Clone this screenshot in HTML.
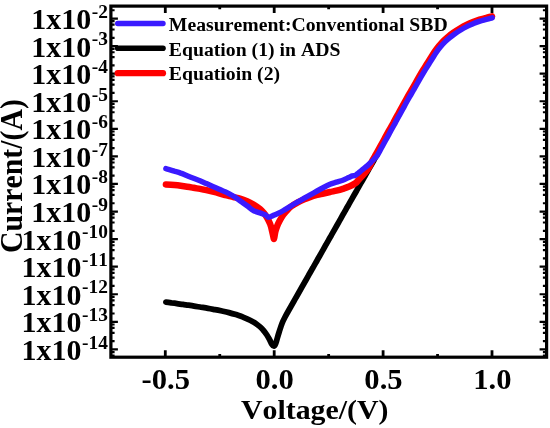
<!DOCTYPE html><html><head><meta charset="utf-8"><title>IV curve</title>
<style>html,body{margin:0;padding:0;background:#fff}svg{display:block}text{font-family:"Liberation Serif",serif;font-weight:bold;fill:#000;font-kerning:none}</style></head><body>
<svg width="550" height="428" viewBox="0 0 550 428">
<rect width="550" height="428" fill="#fff"/>
<path d="M165.9,302.1 C166.8,302.2 169.6,302.6 171.4,302.9 C173.3,303.1 175.1,303.3 177.0,303.6 C178.9,303.9 180.8,304.1 182.8,304.4 C184.7,304.7 186.6,304.9 188.5,305.2 C190.4,305.5 192.3,305.8 194.2,306.1 C196.2,306.4 197.7,306.6 200.0,307.0 C202.3,307.4 205.5,308.0 208.0,308.4 C210.5,308.8 212.7,309.2 215.0,309.6 C217.3,310.0 219.7,310.5 222.0,311.0 C224.3,311.5 226.7,312.0 229.0,312.6 C231.3,313.2 233.7,313.9 236.0,314.6 C238.3,315.4 240.8,316.2 243.1,317.1 C245.4,318.1 247.8,319.1 250.1,320.3 C252.4,321.5 255.0,323.0 257.1,324.5 C259.2,326.0 261.1,327.6 262.7,329.4 C264.3,331.1 265.7,333.2 266.9,335.0 C268.1,336.8 268.9,338.4 269.7,339.9 C270.5,341.4 271.1,343.1 271.8,344.1 C272.5,345.2 273.3,346.2 273.9,346.2 C274.5,346.1 275.1,345.1 275.6,343.8 C276.2,342.5 276.6,340.6 277.2,338.5 C277.8,336.4 278.5,334.0 279.3,331.5 C280.1,329.0 281.1,325.8 282.0,323.5 C282.9,321.2 283.8,319.4 284.8,317.5 C285.8,315.6 286.6,314.1 287.8,312.0 C289.0,309.9 290.5,307.2 291.9,304.8 C293.2,302.4 294.6,300.1 295.9,297.7 C297.3,295.3 298.6,293.0 300.0,290.5 C301.4,288.0 302.9,285.4 304.4,282.8 C305.8,280.3 307.3,277.7 308.7,275.1 C310.2,272.6 311.6,270.0 313.1,267.5 C314.5,264.9 316.0,262.4 317.4,259.8 C318.9,257.2 320.3,254.7 321.8,252.1 C323.2,249.6 324.7,247.0 326.1,244.4 C327.6,241.9 329.0,239.3 330.5,236.8 C331.9,234.2 333.4,231.6 334.8,229.1 C336.3,226.5 337.7,224.0 339.2,221.4 C340.6,218.9 342.1,216.3 343.5,213.7 C345.0,211.2 346.4,208.6 347.9,206.1 C349.3,203.5 350.8,200.9 352.2,198.4 C353.7,195.8 355.1,193.3 356.6,190.7 C358.0,188.1 359.5,185.6 360.9,183.0 C362.4,180.5 363.8,177.9 365.3,175.4 C366.7,172.8 368.2,170.2 369.6,167.7 C371.1,165.1 372.8,162.2 374.0,160.0 C375.2,157.8 376.5,155.4 377.0,154.5" fill="none" stroke="#000" stroke-width="5.8" stroke-linecap="round" stroke-linejoin="round"/>
<path d="M165.9,184.4 C167.3,184.5 171.8,184.9 174.3,185.1 C176.8,185.3 178.6,185.5 180.7,185.8 C182.8,186.1 185.0,186.4 187.1,186.7 C189.2,187.0 191.3,187.4 193.5,187.8 C195.7,188.2 197.8,188.5 200.0,188.9 C202.2,189.3 204.3,189.7 206.4,190.2 C208.5,190.7 210.7,191.2 212.8,191.7 C214.9,192.2 217.2,192.8 219.2,193.4 C221.2,194.0 223.3,194.6 225.0,195.0 C226.7,195.4 228.0,195.7 229.5,196.1 C231.0,196.5 232.1,196.8 234.0,197.2 C235.9,197.6 238.5,198.1 240.7,198.8 C242.9,199.5 245.0,200.4 247.1,201.3 C249.2,202.2 251.3,203.2 253.5,204.5 C255.7,205.8 258.3,207.6 260.0,209.0 C261.7,210.4 262.6,211.5 263.8,212.9 C265.0,214.3 265.9,215.6 267.0,217.5 C268.1,219.4 269.3,221.8 270.2,224.1 C271.1,226.4 271.7,229.3 272.2,231.5 C272.7,233.7 273.1,235.8 273.4,237.0 C273.7,238.2 273.7,238.9 273.9,238.9 C274.1,238.9 274.1,238.2 274.4,237.0 C274.6,235.8 274.9,233.3 275.4,231.4 C275.9,229.5 276.6,227.6 277.3,225.8 C278.0,224.0 278.6,222.6 279.6,220.8 C280.6,219.0 282.0,216.7 283.2,215.0 C284.4,213.3 285.4,212.0 286.8,210.6 C288.2,209.2 289.6,207.7 291.4,206.3 C293.2,204.9 295.6,203.5 297.8,202.3 C300.0,201.1 302.2,200.1 304.3,199.2 C306.4,198.3 308.6,197.5 310.7,196.8 C312.8,196.1 314.9,195.5 317.0,194.9 C319.1,194.3 321.3,194.0 323.5,193.5 C325.7,193.0 327.9,192.5 330.0,192.0 C332.1,191.5 334.3,191.2 336.4,190.7 C338.5,190.2 340.7,189.6 342.8,188.9 C344.9,188.2 347.1,187.5 349.2,186.6 C351.3,185.7 353.7,184.4 355.3,183.3 C356.9,182.2 357.5,181.0 358.6,179.9 C359.6,178.7 360.6,177.7 361.8,176.4 C363.0,175.1 364.5,173.5 365.8,171.9 C367.1,170.3 368.3,168.8 369.5,166.7 C370.7,164.6 371.8,161.7 372.9,159.6 C374.0,157.5 374.9,156.2 376.2,153.9 C377.5,151.6 379.1,148.7 380.5,146.1 C382.0,143.4 383.4,140.8 384.8,138.2 C386.3,135.6 387.7,133.0 389.1,130.4 C390.6,127.8 392.0,125.1 393.5,122.5 C394.9,119.9 396.3,117.3 397.8,114.7 C399.2,112.1 400.6,109.5 402.1,106.8 C403.5,104.2 405.2,101.1 406.4,99.0 C407.6,96.9 408.3,95.7 409.3,94.0 C410.3,92.3 411.1,90.9 412.2,89.0 C413.3,87.1 414.7,84.7 415.9,82.5 C417.1,80.3 418.3,78.2 419.5,76.1 C420.7,74.0 422.0,71.8 423.3,69.7 C424.6,67.6 426.1,65.4 427.4,63.3 C428.7,61.2 430.0,59.0 431.3,57.0 C432.6,55.0 433.8,53.0 435.1,51.1 C436.4,49.2 437.8,47.4 439.3,45.6 C440.8,43.9 442.4,42.1 443.9,40.6 C445.4,39.1 446.9,37.7 448.5,36.4 C450.1,35.1 451.5,34.1 453.4,32.8 C455.3,31.5 457.8,29.9 460.0,28.6 C462.2,27.3 464.3,26.1 466.5,25.0 C468.7,23.9 470.8,23.0 473.0,22.1 C475.2,21.2 477.4,20.4 479.6,19.7 C481.8,19.0 484.0,18.4 486.1,17.9 C488.2,17.3 491.0,16.6 492.0,16.4" fill="none" stroke="#ff0000" stroke-width="6.5" stroke-linecap="round" stroke-linejoin="round"/>
<path d="M165.9,168.6 C167.3,169.0 171.8,170.4 174.3,171.2 C176.8,171.9 178.6,172.3 180.7,173.1 C182.8,173.8 185.0,174.8 187.1,175.7 C189.2,176.6 191.3,177.5 193.5,178.3 C195.7,179.2 197.8,179.9 200.0,180.8 C202.2,181.7 204.3,182.7 206.4,183.6 C208.5,184.5 210.7,185.5 212.8,186.4 C214.9,187.3 217.4,188.4 219.2,189.2 C221.0,190.0 222.1,190.4 223.5,191.1 C224.9,191.8 226.0,192.1 227.8,193.1 C229.6,194.1 232.2,195.4 234.3,196.8 C236.5,198.2 238.6,199.8 240.7,201.3 C242.8,202.8 245.2,204.4 247.1,205.8 C249.0,207.2 250.9,208.8 252.2,209.7 C253.5,210.6 253.5,210.8 254.8,211.3 C256.1,211.8 258.3,212.3 260.0,212.9 C261.7,213.5 263.7,214.1 265.1,214.8 C266.5,215.5 267.0,217.3 268.5,217.3 C270.0,217.3 272.3,215.9 274.3,215.0 C276.3,214.1 278.9,213.0 280.7,212.1 C282.5,211.2 283.2,210.7 285.0,209.6 C286.8,208.5 289.3,207.0 291.4,205.7 C293.5,204.4 295.6,203.2 297.8,201.9 C300.0,200.7 302.2,199.4 304.3,198.2 C306.4,197.0 308.6,195.8 310.7,194.6 C312.8,193.4 315.0,192.2 317.1,191.0 C319.2,189.8 321.4,188.6 323.5,187.5 C325.6,186.4 327.9,185.2 330.0,184.3 C332.1,183.4 334.3,182.9 336.4,182.2 C338.5,181.5 340.7,181.0 342.8,180.2 C344.9,179.4 347.2,178.2 348.8,177.5 C350.4,176.8 351.4,176.2 352.4,175.9 C353.4,175.6 354.1,175.8 355.0,175.5 C355.9,175.2 356.4,174.6 357.5,173.8 C358.6,173.0 359.7,171.9 361.4,170.5 C363.1,169.1 366.2,166.8 367.8,165.4 C369.4,164.0 369.9,163.3 371.0,162.2 C372.1,161.1 373.1,160.2 374.2,159.0 C375.3,157.8 376.3,157.0 377.6,155.0 C378.9,153.0 380.5,149.8 381.9,147.1 C383.4,144.5 384.8,141.9 386.2,139.3 C387.7,136.7 389.1,134.0 390.5,131.4 C392.0,128.8 393.4,126.2 394.9,123.6 C396.3,121.0 397.7,118.3 399.2,115.7 C400.6,113.1 402.0,110.5 403.5,107.9 C404.9,105.2 406.6,102.1 407.8,100.0 C409.0,97.9 409.7,96.7 410.7,95.0 C411.7,93.3 412.5,91.9 413.6,90.0 C414.7,88.1 416.1,85.7 417.3,83.5 C418.5,81.3 419.7,79.2 420.9,77.1 C422.1,75.0 423.4,72.8 424.7,70.7 C426.0,68.6 427.5,66.4 428.8,64.3 C430.1,62.2 431.4,60.0 432.7,58.0 C434.0,56.0 435.1,54.1 436.4,52.2 C437.7,50.3 439.1,48.5 440.5,46.8 C441.9,45.1 443.5,43.4 445.0,41.9 C446.5,40.4 447.9,39.1 449.5,37.8 C451.1,36.5 452.4,35.5 454.3,34.2 C456.2,32.9 458.6,31.3 460.7,30.0 C462.8,28.7 465.0,27.5 467.1,26.4 C469.2,25.3 471.4,24.4 473.5,23.5 C475.6,22.6 477.9,21.8 480.0,21.1 C482.1,20.4 484.4,19.9 486.4,19.3 C488.4,18.8 491.2,18.1 492.2,17.8" fill="none" stroke="#3a1aff" stroke-width="5.45" stroke-linecap="round" stroke-linejoin="round"/>
<rect x="110.9" y="6.1" width="435.70000000000005" height="351.09999999999997" fill="none" stroke="#000" stroke-width="3.2"/>
<path d="M110.9,349.39h7.0M546.6,349.39h-7.0M110.9,321.82h7.0M546.6,321.82h-7.0M110.9,294.25h7.0M546.6,294.25h-7.0M110.9,266.68h7.0M546.6,266.68h-7.0M110.9,239.11h7.0M546.6,239.11h-7.0M110.9,211.54h7.0M546.6,211.54h-7.0M110.9,183.97h7.0M546.6,183.97h-7.0M110.9,156.40h7.0M546.6,156.40h-7.0M110.9,128.83h7.0M546.6,128.83h-7.0M110.9,101.26h7.0M546.6,101.26h-7.0M110.9,73.69h7.0M546.6,73.69h-7.0M110.9,46.12h7.0M546.6,46.12h-7.0M110.9,18.55h7.0M546.6,18.55h-7.0M110.9,355.51h3.7M546.6,355.51h-3.7M110.9,352.06h3.7M546.6,352.06h-3.7M110.9,341.09h3.7M546.6,341.09h-3.7M110.9,332.79h3.7M546.6,332.79h-3.7M110.9,327.94h3.7M546.6,327.94h-3.7M110.9,324.49h3.7M546.6,324.49h-3.7M110.9,313.52h3.7M546.6,313.52h-3.7M110.9,305.22h3.7M546.6,305.22h-3.7M110.9,300.37h3.7M546.6,300.37h-3.7M110.9,296.92h3.7M546.6,296.92h-3.7M110.9,285.95h3.7M546.6,285.95h-3.7M110.9,277.65h3.7M546.6,277.65h-3.7M110.9,272.80h3.7M546.6,272.80h-3.7M110.9,269.35h3.7M546.6,269.35h-3.7M110.9,258.38h3.7M546.6,258.38h-3.7M110.9,250.08h3.7M546.6,250.08h-3.7M110.9,245.23h3.7M546.6,245.23h-3.7M110.9,241.78h3.7M546.6,241.78h-3.7M110.9,230.81h3.7M546.6,230.81h-3.7M110.9,222.51h3.7M546.6,222.51h-3.7M110.9,217.66h3.7M546.6,217.66h-3.7M110.9,214.21h3.7M546.6,214.21h-3.7M110.9,203.24h3.7M546.6,203.24h-3.7M110.9,194.94h3.7M546.6,194.94h-3.7M110.9,190.09h3.7M546.6,190.09h-3.7M110.9,186.64h3.7M546.6,186.64h-3.7M110.9,175.67h3.7M546.6,175.67h-3.7M110.9,167.37h3.7M546.6,167.37h-3.7M110.9,162.52h3.7M546.6,162.52h-3.7M110.9,159.07h3.7M546.6,159.07h-3.7M110.9,148.10h3.7M546.6,148.10h-3.7M110.9,139.80h3.7M546.6,139.80h-3.7M110.9,134.95h3.7M546.6,134.95h-3.7M110.9,131.50h3.7M546.6,131.50h-3.7M110.9,120.53h3.7M546.6,120.53h-3.7M110.9,112.23h3.7M546.6,112.23h-3.7M110.9,107.38h3.7M546.6,107.38h-3.7M110.9,103.93h3.7M546.6,103.93h-3.7M110.9,92.96h3.7M546.6,92.96h-3.7M110.9,84.66h3.7M546.6,84.66h-3.7M110.9,79.81h3.7M546.6,79.81h-3.7M110.9,76.36h3.7M546.6,76.36h-3.7M110.9,65.39h3.7M546.6,65.39h-3.7M110.9,57.09h3.7M546.6,57.09h-3.7M110.9,52.24h3.7M546.6,52.24h-3.7M110.9,48.79h3.7M546.6,48.79h-3.7M110.9,37.82h3.7M546.6,37.82h-3.7M110.9,29.52h3.7M546.6,29.52h-3.7M110.9,24.67h3.7M546.6,24.67h-3.7M110.9,21.22h3.7M546.6,21.22h-3.7M110.9,10.25h3.7M546.6,10.25h-3.7" fill="none" stroke="#000" stroke-width="2.2"/>
<path d="M165.30,357.2v-7.0M165.30,6.1v7.0M274.20,357.2v-7.0M274.20,6.1v7.0M383.10,357.2v-7.0M383.10,6.1v7.0M492.00,357.2v-7.0M492.00,6.1v7.0M219.75,357.2v-3.1M219.75,6.1v3.1M328.65,357.2v-3.1M328.65,6.1v3.1M437.55,357.2v-3.1M437.55,6.1v3.1" fill="none" stroke="#000" stroke-width="2.8"/>
<text transform="translate(81.4,359.8) scale(1.015,1)" text-anchor="end" font-size="29.5">1x10</text>
<text transform="translate(107.9,348.6) scale(0.98,1)" text-anchor="end" font-size="19.8">-14</text>
<text transform="translate(81.4,332.2) scale(1.015,1)" text-anchor="end" font-size="29.5">1x10</text>
<text transform="translate(107.9,321.0) scale(0.98,1)" text-anchor="end" font-size="19.8">-13</text>
<text transform="translate(81.4,304.6) scale(1.015,1)" text-anchor="end" font-size="29.5">1x10</text>
<text transform="translate(107.9,293.4) scale(0.98,1)" text-anchor="end" font-size="19.8">-12</text>
<text transform="translate(81.4,277.1) scale(1.015,1)" text-anchor="end" font-size="29.5">1x10</text>
<text transform="translate(107.9,265.9) scale(0.98,1)" text-anchor="end" font-size="19.8">-11</text>
<text transform="translate(81.4,249.5) scale(1.015,1)" text-anchor="end" font-size="29.5">1x10</text>
<text transform="translate(107.9,238.3) scale(0.98,1)" text-anchor="end" font-size="19.8">-10</text>
<text transform="translate(91.1,221.9) scale(1.015,1)" text-anchor="end" font-size="29.5">1x10</text>
<text transform="translate(107.9,210.7) scale(0.98,1)" text-anchor="end" font-size="19.8">-9</text>
<text transform="translate(91.1,194.4) scale(1.015,1)" text-anchor="end" font-size="29.5">1x10</text>
<text transform="translate(107.9,183.2) scale(0.98,1)" text-anchor="end" font-size="19.8">-8</text>
<text transform="translate(91.1,166.8) scale(1.015,1)" text-anchor="end" font-size="29.5">1x10</text>
<text transform="translate(107.9,155.6) scale(0.98,1)" text-anchor="end" font-size="19.8">-7</text>
<text transform="translate(91.1,139.2) scale(1.015,1)" text-anchor="end" font-size="29.5">1x10</text>
<text transform="translate(107.9,128.0) scale(0.98,1)" text-anchor="end" font-size="19.8">-6</text>
<text transform="translate(91.1,111.7) scale(1.015,1)" text-anchor="end" font-size="29.5">1x10</text>
<text transform="translate(107.9,100.5) scale(0.98,1)" text-anchor="end" font-size="19.8">-5</text>
<text transform="translate(91.1,84.1) scale(1.015,1)" text-anchor="end" font-size="29.5">1x10</text>
<text transform="translate(107.9,72.9) scale(0.98,1)" text-anchor="end" font-size="19.8">-4</text>
<text transform="translate(91.1,56.5) scale(1.015,1)" text-anchor="end" font-size="29.5">1x10</text>
<text transform="translate(107.9,45.3) scale(0.98,1)" text-anchor="end" font-size="19.8">-3</text>
<text transform="translate(91.1,29.0) scale(1.015,1)" text-anchor="end" font-size="29.5">1x10</text>
<text transform="translate(107.9,17.8) scale(0.98,1)" text-anchor="end" font-size="19.8">-2</text>
<text transform="translate(165.7,389.1) scale(1.045,1)" text-anchor="middle" font-size="29.3">-0.5</text>
<text transform="translate(274.6,389.1) scale(1.045,1)" text-anchor="middle" font-size="29.3">0.0</text>
<text transform="translate(383.5,389.1) scale(1.045,1)" text-anchor="middle" font-size="29.3">0.5</text>
<text transform="translate(492.4,389.1) scale(1.045,1)" text-anchor="middle" font-size="29.3">1.0</text>
<text transform="translate(314.7,418.7) scale(1.054,1)" text-anchor="middle" font-size="28.3">Voltage/(V)</text>
<text transform="translate(22.3,176.1) rotate(-90) scale(1,1.065)" text-anchor="middle" font-size="29.8">Current/(A)</text>
<path d="M117.7,23.45H163" stroke="#3a1aff" stroke-width="5.4" stroke-linecap="round" fill="none"/>
<text transform="translate(168.8,30.6) scale(1.012,1)" font-size="19.5">Measurement:Conventional SBD</text>
<path d="M117.7,48.30H163" stroke="#000" stroke-width="5.6" stroke-linecap="round" fill="none"/>
<text transform="translate(168.8,55.5) scale(1.012,1)" font-size="19.5">Equation (1) in ADS</text>
<path d="M117.7,73.15H163" stroke="#ff0000" stroke-width="6.2" stroke-linecap="round" fill="none"/>
<text transform="translate(168.8,80.4) scale(1.012,1)" font-size="19.5">Equatioin (2)</text>
</svg></body></html>
